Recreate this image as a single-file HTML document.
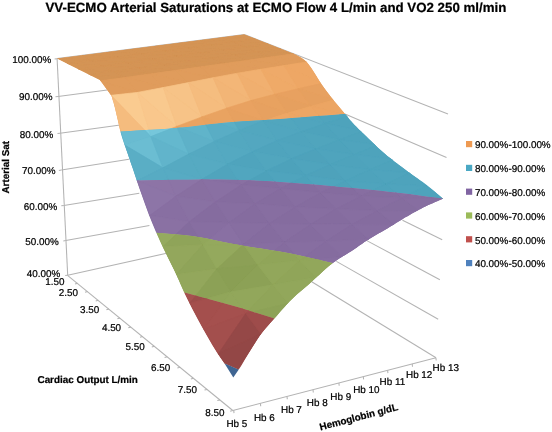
<!DOCTYPE html>
<html><head><meta charset="utf-8"><title>VV-ECMO Arterial Saturations</title>
<style>
html,body{margin:0;padding:0;background:#fff;}
body{width:552px;height:432px;overflow:hidden;}
svg{display:block;font-family:"Liberation Sans",sans-serif;text-rendering:geometricPrecision;}
svg text{fill:#000;stroke:#000;stroke-width:0.22px;}
</style></head><body>
<svg width="552" height="432" viewBox="0 0 552 432">
<rect x="0" y="0" width="552" height="432" fill="#ffffff"/>
<defs>
<clipPath id="cO"><polygon points="57.2,58.6 244.3,34.5 296.0,54.8 297.8,55.7 299.7,56.7 301.5,57.8 303.3,59.0 305.0,60.4 306.7,62.0 309.1,64.9 311.5,68.2 313.9,72.0 316.4,76.1 319.1,80.5 322.0,85.0 325.8,90.3 329.8,95.6 333.9,100.8 337.9,105.6 341.7,110.1 345.0,114.0 335.8,114.7 326.7,115.4 317.7,116.1 308.8,116.8 300.0,117.5 292.1,118.1 284.4,118.7 276.8,119.2 269.3,119.7 262.0,120.2 255.4,120.6 248.9,120.9 242.5,121.3 236.2,121.7 230.0,122.2 224.0,122.8 218.0,123.4 212.0,124.1 206.0,124.8 200.0,125.5 193.9,126.2 187.8,126.9 181.7,127.5 175.8,128.1 170.0,128.6 165.0,129.0 160.2,129.3 155.5,129.5 150.8,129.8 146.0,130.0 141.0,130.3 135.9,130.6 130.8,130.9 125.6,131.2 120.4,131.5 119.5,128.0 118.7,124.3 117.9,120.6 117.1,117.0 116.3,113.4 115.5,110.0 114.9,107.4 114.2,105.0 113.6,102.6 112.9,100.4 112.3,98.2 111.6,96.0 100.0,80.0 57.2,58.6"/></clipPath>
<clipPath id="cT"><polygon points="120.4,131.5 125.6,131.2 130.8,130.9 135.9,130.6 141.0,130.3 146.0,130.0 150.8,129.8 155.5,129.5 160.2,129.3 165.0,129.0 170.0,128.6 175.8,128.1 181.7,127.5 187.8,126.9 193.9,126.2 200.0,125.5 206.0,124.8 212.0,124.1 218.0,123.4 224.0,122.8 230.0,122.2 236.2,121.7 242.5,121.3 248.9,120.9 255.4,120.6 262.0,120.2 269.3,119.7 276.8,119.2 284.4,118.7 292.1,118.1 300.0,117.5 308.8,116.8 317.7,116.1 326.7,115.4 335.8,114.7 345.0,114.0 346.8,116.1 348.4,118.1 349.9,119.9 351.4,121.6 352.9,123.3 354.5,125.0 356.6,127.1 358.9,129.4 361.3,131.7 363.8,134.1 366.4,136.5 368.9,138.9 371.3,141.2 373.6,143.5 375.9,145.7 378.2,147.9 380.5,150.0 382.8,152.1 385.1,154.0 387.3,155.9 389.7,157.8 392.0,159.6 394.3,161.4 396.7,163.2 399.0,165.0 401.4,166.8 403.7,168.5 406.0,170.3 408.3,172.0 410.6,173.6 412.9,175.2 415.1,176.7 417.4,178.3 419.7,179.9 422.0,181.5 424.4,183.3 427.3,185.6 430.4,188.0 433.5,190.6 436.6,193.2 439.8,195.9 443.0,198.7 434.6,197.5 426.1,196.4 417.5,195.2 408.9,194.1 400.0,193.0 390.2,191.9 380.3,190.8 370.2,189.8 360.1,188.8 350.0,187.8 340.0,186.9 330.0,186.0 320.0,185.1 310.0,184.3 300.0,183.5 290.0,182.7 279.9,182.0 269.9,181.3 259.9,180.7 250.0,180.2 240.2,179.9 230.4,179.7 220.5,179.6 210.4,179.6 200.0,179.6 187.9,179.7 175.5,179.8 162.7,180.0 149.8,180.2 136.8,180.4 134.8,174.6 133.0,169.1 131.2,163.9 129.5,159.0 127.9,154.3 126.4,150.0 125.3,146.8 124.2,143.7 123.2,140.7 122.2,137.7 121.3,134.7 120.4,131.5"/></clipPath>
<clipPath id="cP"><polygon points="136.8,180.4 149.8,180.2 162.7,180.0 175.5,179.8 187.9,179.7 200.0,179.6 210.4,179.6 220.5,179.6 230.4,179.7 240.2,179.9 250.0,180.2 259.9,180.7 269.9,181.3 279.9,182.0 290.0,182.7 300.0,183.5 310.0,184.3 320.0,185.1 330.0,186.0 340.0,186.9 350.0,187.8 360.1,188.8 370.2,189.8 380.3,190.8 390.2,191.9 400.0,193.0 408.9,194.1 417.5,195.2 426.1,196.4 434.6,197.5 443.0,198.7 440.3,199.8 437.7,200.9 435.1,202.1 432.6,203.2 430.1,204.2 427.8,205.3 425.9,206.2 424.1,207.1 422.3,208.0 420.6,208.9 418.8,209.8 417.0,210.8 414.8,212.0 412.4,213.3 410.0,214.7 407.5,216.2 404.9,217.6 402.3,219.2 399.4,221.0 396.4,222.8 393.4,224.7 390.4,226.5 387.3,228.4 384.3,230.2 381.3,231.9 378.4,233.6 375.5,235.3 372.6,237.0 369.8,238.7 367.0,240.4 364.4,242.1 361.9,243.9 359.4,245.6 356.9,247.4 354.3,249.2 351.7,250.9 348.7,252.8 345.6,254.7 342.4,256.6 339.2,258.6 336.0,260.7 332.8,263.0 328.3,261.9 323.8,260.9 319.2,259.8 314.6,258.8 310.0,257.7 304.6,256.5 299.0,255.3 293.2,254.1 286.9,252.8 280.0,251.6 270.3,250.0 260.0,248.3 249.5,246.7 239.4,245.0 230.0,243.3 223.5,242.0 217.5,240.7 211.8,239.4 206.0,238.3 200.0,237.2 192.2,236.1 183.7,235.1 174.8,234.3 165.6,233.5 156.3,232.8 152.5,223.7 148.9,214.7 145.6,205.7 142.5,196.9 139.5,188.5 136.8,180.4"/></clipPath>
<clipPath id="cG"><polygon points="156.3,232.8 165.6,233.5 174.8,234.3 183.7,235.1 192.2,236.1 200.0,237.2 206.0,238.3 211.8,239.4 217.5,240.7 223.5,242.0 230.0,243.3 239.4,245.0 249.5,246.7 260.0,248.3 270.3,250.0 280.0,251.6 286.9,252.8 293.2,254.1 299.0,255.3 304.6,256.5 310.0,257.7 314.6,258.8 319.2,259.8 323.8,260.9 328.3,261.9 332.8,263.0 329.3,265.8 325.7,268.8 322.2,272.0 318.8,275.2 315.2,278.5 311.7,281.7 308.1,284.9 304.5,288.0 300.9,291.1 297.3,294.1 293.9,297.3 290.5,300.5 287.5,303.6 284.7,306.7 281.9,309.8 279.3,312.8 276.8,315.8 274.3,318.6 265.5,315.8 256.7,313.1 247.8,310.3 238.9,307.6 230.0,305.0 220.9,302.4 211.8,299.9 202.6,297.4 193.4,294.9 184.2,292.5 182.6,289.0 181.3,286.0 180.1,283.3 179.0,280.6 177.8,277.9 176.5,275.0 173.9,269.6 170.9,263.4 167.4,256.4 163.7,248.9 160.0,241.0 156.3,232.8"/></clipPath>
<clipPath id="cR"><polygon points="184.2,292.5 193.4,294.9 202.6,297.4 211.8,299.9 220.9,302.4 230.0,305.0 238.9,307.6 247.8,310.3 256.7,313.1 265.5,315.8 274.3,318.6 272.0,321.1 269.8,323.5 267.6,326.0 265.2,328.7 262.8,331.7 260.3,335.1 256.6,340.6 252.7,346.7 248.8,353.1 245.0,359.3 241.7,365.0 238.8,369.6 224.4,363.3 222.7,360.8 220.9,358.2 219.0,355.5 217.0,352.4 214.8,349.0 212.3,345.0 207.7,337.1 202.6,328.0 197.4,318.4 192.4,308.9 187.9,300.0 184.2,292.5"/></clipPath>
</defs>
<g id="grid" fill="none">
<line x1="57.1" y1="58.8" x2="67.7" y2="275.3" stroke="#b3b3b3" stroke-width="1.05"/>
<line x1="58.0" y1="96.5" x2="107.2" y2="89.9" stroke="#b3b3b3" stroke-width="1.05"/>
<line x1="60.0" y1="133.3" x2="120.3" y2="124.9" stroke="#b3b3b3" stroke-width="1.05"/>
<line x1="61.4" y1="170.1" x2="129.0" y2="159.3" stroke="#b3b3b3" stroke-width="1.05"/>
<line x1="63.8" y1="205.5" x2="139.3" y2="193.2" stroke="#b3b3b3" stroke-width="1.05"/>
<line x1="65.8" y1="240.6" x2="149.4" y2="225.4" stroke="#b3b3b3" stroke-width="1.05"/>
<line x1="67.7" y1="275.2" x2="170.0" y2="252.5" stroke="#b3b3b3" stroke-width="1.05"/>
<line x1="57.2" y1="58.6" x2="244.3" y2="34.5" stroke="#b3b3b3" stroke-width="1.05"/>
<line x1="244.3" y1="34.5" x2="448.0" y2="114.0" stroke="#b3b3b3" stroke-width="1.05"/>
<line x1="345.0" y1="114.0" x2="446.5" y2="157.4" stroke="#b3b3b3" stroke-width="1.05"/>
<line x1="402.5" y1="220.3" x2="442.2" y2="239.7" stroke="#b3b3b3" stroke-width="1.05"/>
<line x1="366.8" y1="240.6" x2="439.9" y2="279.7" stroke="#b3b3b3" stroke-width="1.05"/>
<line x1="336.4" y1="261.4" x2="438.2" y2="319.2" stroke="#b3b3b3" stroke-width="1.05"/>
<line x1="311.7" y1="281.7" x2="436.0" y2="357.7" stroke="#b3b3b3" stroke-width="1.05"/>
<line x1="67.5" y1="275.3" x2="232.8" y2="410.5" stroke="#b3b3b3" stroke-width="1.05"/>
<line x1="232.8" y1="410.5" x2="436.0" y2="357.7" stroke="#b3b3b3" stroke-width="1.05"/>
<line x1="77.6" y1="283.2" x2="75.0" y2="283.9" stroke="#b3b3b3" stroke-width="1.05"/>
<line x1="87.6" y1="291.5" x2="85.0" y2="292.2" stroke="#b3b3b3" stroke-width="1.05"/>
<line x1="98.3" y1="300.2" x2="95.7" y2="300.9" stroke="#b3b3b3" stroke-width="1.05"/>
<line x1="109.0" y1="309.0" x2="106.4" y2="309.7" stroke="#b3b3b3" stroke-width="1.05"/>
<line x1="120.0" y1="318.0" x2="117.4" y2="318.7" stroke="#b3b3b3" stroke-width="1.05"/>
<line x1="130.9" y1="327.0" x2="128.3" y2="327.7" stroke="#b3b3b3" stroke-width="1.05"/>
<line x1="142.6" y1="336.6" x2="140.0" y2="337.3" stroke="#b3b3b3" stroke-width="1.05"/>
<line x1="154.4" y1="346.2" x2="151.8" y2="346.9" stroke="#b3b3b3" stroke-width="1.05"/>
<line x1="167.2" y1="356.7" x2="164.6" y2="357.4" stroke="#b3b3b3" stroke-width="1.05"/>
<line x1="180.0" y1="367.2" x2="177.4" y2="367.9" stroke="#b3b3b3" stroke-width="1.05"/>
<line x1="193.5" y1="378.3" x2="190.9" y2="379.0" stroke="#b3b3b3" stroke-width="1.05"/>
<line x1="207.1" y1="389.4" x2="204.5" y2="390.1" stroke="#b3b3b3" stroke-width="1.05"/>
<line x1="219.9" y1="399.9" x2="217.3" y2="400.6" stroke="#b3b3b3" stroke-width="1.05"/>
<line x1="232.8" y1="410.5" x2="230.2" y2="411.2" stroke="#b3b3b3" stroke-width="1.05"/>
<line x1="233.7" y1="410.3" x2="234.0" y2="413.1" stroke="#b3b3b3" stroke-width="1.05"/>
<line x1="260.4" y1="403.4" x2="260.7" y2="406.2" stroke="#b3b3b3" stroke-width="1.05"/>
<line x1="287.0" y1="396.5" x2="287.3" y2="399.3" stroke="#b3b3b3" stroke-width="1.05"/>
<line x1="313.0" y1="389.7" x2="313.3" y2="392.5" stroke="#b3b3b3" stroke-width="1.05"/>
<line x1="338.9" y1="383.0" x2="339.2" y2="385.8" stroke="#b3b3b3" stroke-width="1.05"/>
<line x1="363.3" y1="376.6" x2="363.6" y2="379.4" stroke="#b3b3b3" stroke-width="1.05"/>
<line x1="387.6" y1="370.3" x2="387.9" y2="373.1" stroke="#b3b3b3" stroke-width="1.05"/>
<line x1="412.2" y1="363.9" x2="412.5" y2="366.7" stroke="#b3b3b3" stroke-width="1.05"/>
<line x1="435.9" y1="357.7" x2="436.2" y2="360.5" stroke="#b3b3b3" stroke-width="1.05"/>
<line x1="58.0" y1="96.5" x2="55.5" y2="96.8" stroke="#b3b3b3" stroke-width="1.05"/>
<line x1="60.0" y1="133.3" x2="57.5" y2="133.6" stroke="#b3b3b3" stroke-width="1.05"/>
<line x1="61.4" y1="170.1" x2="58.9" y2="170.4" stroke="#b3b3b3" stroke-width="1.05"/>
<line x1="63.8" y1="205.5" x2="61.3" y2="205.8" stroke="#b3b3b3" stroke-width="1.05"/>
<line x1="65.8" y1="240.6" x2="63.3" y2="240.9" stroke="#b3b3b3" stroke-width="1.05"/>
<line x1="67.7" y1="275.2" x2="65.2" y2="275.5" stroke="#b3b3b3" stroke-width="1.05"/>
<line x1="57.1" y1="58.8" x2="54.6" y2="59.1" stroke="#b3b3b3" stroke-width="1.05"/>
</g>
<g id="surface" stroke="none">
<polygon points="57.2,58.6 244.3,34.5 296.0,54.8 297.8,55.7 299.7,56.7 301.5,57.8 303.3,59.0 305.0,60.4 306.7,62.0 309.1,64.9 311.5,68.2 313.9,72.0 316.4,76.1 319.1,80.5 322.0,85.0 325.8,90.3 329.8,95.6 333.9,100.8 337.9,105.6 341.7,110.1 345.0,114.0 335.8,114.7 326.7,115.4 317.7,116.1 308.8,116.8 300.0,117.5 292.1,118.1 284.4,118.7 276.8,119.2 269.3,119.7 262.0,120.2 255.4,120.6 248.9,120.9 242.5,121.3 236.2,121.7 230.0,122.2 224.0,122.8 218.0,123.4 212.0,124.1 206.0,124.8 200.0,125.5 193.9,126.2 187.8,126.9 181.7,127.5 175.8,128.1 170.0,128.6 165.0,129.0 160.2,129.3 155.5,129.5 150.8,129.8 146.0,130.0 141.0,130.3 135.9,130.6 130.8,130.9 125.6,131.2 120.4,131.5 119.5,128.0 118.7,124.3 117.9,120.6 117.1,117.0 116.3,113.4 115.5,110.0 114.9,107.4 114.2,105.0 113.6,102.6 112.9,100.4 112.3,98.2 111.6,96.0 100.0,80.0 57.2,58.6" fill="#EDA563" />
<polygon points="120.4,131.5 125.6,131.2 130.8,130.9 135.9,130.6 141.0,130.3 146.0,130.0 150.8,129.8 155.5,129.5 160.2,129.3 165.0,129.0 170.0,128.6 175.8,128.1 181.7,127.5 187.8,126.9 193.9,126.2 200.0,125.5 206.0,124.8 212.0,124.1 218.0,123.4 224.0,122.8 230.0,122.2 236.2,121.7 242.5,121.3 248.9,120.9 255.4,120.6 262.0,120.2 269.3,119.7 276.8,119.2 284.4,118.7 292.1,118.1 300.0,117.5 308.8,116.8 317.7,116.1 326.7,115.4 335.8,114.7 345.0,114.0 346.8,116.1 348.4,118.1 349.9,119.9 351.4,121.6 352.9,123.3 354.5,125.0 356.6,127.1 358.9,129.4 361.3,131.7 363.8,134.1 366.4,136.5 368.9,138.9 371.3,141.2 373.6,143.5 375.9,145.7 378.2,147.9 380.5,150.0 382.8,152.1 385.1,154.0 387.3,155.9 389.7,157.8 392.0,159.6 394.3,161.4 396.7,163.2 399.0,165.0 401.4,166.8 403.7,168.5 406.0,170.3 408.3,172.0 410.6,173.6 412.9,175.2 415.1,176.7 417.4,178.3 419.7,179.9 422.0,181.5 424.4,183.3 427.3,185.6 430.4,188.0 433.5,190.6 436.6,193.2 439.8,195.9 443.0,198.7 434.6,197.5 426.1,196.4 417.5,195.2 408.9,194.1 400.0,193.0 390.2,191.9 380.3,190.8 370.2,189.8 360.1,188.8 350.0,187.8 340.0,186.9 330.0,186.0 320.0,185.1 310.0,184.3 300.0,183.5 290.0,182.7 279.9,182.0 269.9,181.3 259.9,180.7 250.0,180.2 240.2,179.9 230.4,179.7 220.5,179.6 210.4,179.6 200.0,179.6 187.9,179.7 175.5,179.8 162.7,180.0 149.8,180.2 136.8,180.4 134.8,174.6 133.0,169.1 131.2,163.9 129.5,159.0 127.9,154.3 126.4,150.0 125.3,146.8 124.2,143.7 123.2,140.7 122.2,137.7 121.3,134.7 120.4,131.5" fill="#4FA4BD" />
<polygon points="136.8,180.4 149.8,180.2 162.7,180.0 175.5,179.8 187.9,179.7 200.0,179.6 210.4,179.6 220.5,179.6 230.4,179.7 240.2,179.9 250.0,180.2 259.9,180.7 269.9,181.3 279.9,182.0 290.0,182.7 300.0,183.5 310.0,184.3 320.0,185.1 330.0,186.0 340.0,186.9 350.0,187.8 360.1,188.8 370.2,189.8 380.3,190.8 390.2,191.9 400.0,193.0 408.9,194.1 417.5,195.2 426.1,196.4 434.6,197.5 443.0,198.7 440.3,199.8 437.7,200.9 435.1,202.1 432.6,203.2 430.1,204.2 427.8,205.3 425.9,206.2 424.1,207.1 422.3,208.0 420.6,208.9 418.8,209.8 417.0,210.8 414.8,212.0 412.4,213.3 410.0,214.7 407.5,216.2 404.9,217.6 402.3,219.2 399.4,221.0 396.4,222.8 393.4,224.7 390.4,226.5 387.3,228.4 384.3,230.2 381.3,231.9 378.4,233.6 375.5,235.3 372.6,237.0 369.8,238.7 367.0,240.4 364.4,242.1 361.9,243.9 359.4,245.6 356.9,247.4 354.3,249.2 351.7,250.9 348.7,252.8 345.6,254.7 342.4,256.6 339.2,258.6 336.0,260.7 332.8,263.0 328.3,261.9 323.8,260.9 319.2,259.8 314.6,258.8 310.0,257.7 304.6,256.5 299.0,255.3 293.2,254.1 286.9,252.8 280.0,251.6 270.3,250.0 260.0,248.3 249.5,246.7 239.4,245.0 230.0,243.3 223.5,242.0 217.5,240.7 211.8,239.4 206.0,238.3 200.0,237.2 192.2,236.1 183.7,235.1 174.8,234.3 165.6,233.5 156.3,232.8 152.5,223.7 148.9,214.7 145.6,205.7 142.5,196.9 139.5,188.5 136.8,180.4" fill="#866DA0" />
<polygon points="156.3,232.8 165.6,233.5 174.8,234.3 183.7,235.1 192.2,236.1 200.0,237.2 206.0,238.3 211.8,239.4 217.5,240.7 223.5,242.0 230.0,243.3 239.4,245.0 249.5,246.7 260.0,248.3 270.3,250.0 280.0,251.6 286.9,252.8 293.2,254.1 299.0,255.3 304.6,256.5 310.0,257.7 314.6,258.8 319.2,259.8 323.8,260.9 328.3,261.9 332.8,263.0 329.3,265.8 325.7,268.8 322.2,272.0 318.8,275.2 315.2,278.5 311.7,281.7 308.1,284.9 304.5,288.0 300.9,291.1 297.3,294.1 293.9,297.3 290.5,300.5 287.5,303.6 284.7,306.7 281.9,309.8 279.3,312.8 276.8,315.8 274.3,318.6 265.5,315.8 256.7,313.1 247.8,310.3 238.9,307.6 230.0,305.0 220.9,302.4 211.8,299.9 202.6,297.4 193.4,294.9 184.2,292.5 182.6,289.0 181.3,286.0 180.1,283.3 179.0,280.6 177.8,277.9 176.5,275.0 173.9,269.6 170.9,263.4 167.4,256.4 163.7,248.9 160.0,241.0 156.3,232.8" fill="#91A65A" />
<polygon points="184.2,292.5 193.4,294.9 202.6,297.4 211.8,299.9 220.9,302.4 230.0,305.0 238.9,307.6 247.8,310.3 256.7,313.1 265.5,315.8 274.3,318.6 272.0,321.1 269.8,323.5 267.6,326.0 265.2,328.7 262.8,331.7 260.3,335.1 256.6,340.6 252.7,346.7 248.8,353.1 245.0,359.3 241.7,365.0 238.8,369.6 224.4,363.3 222.7,360.8 220.9,358.2 219.0,355.5 217.0,352.4 214.8,349.0 212.3,345.0 207.7,337.1 202.6,328.0 197.4,318.4 192.4,308.9 187.9,300.0 184.2,292.5" fill="#A5504E" />
<polygon points="224.4,363.3 238.8,369.6 233.3,377.4" fill="#3F6592" />
<g clip-path="url(#cO)">
<polygon points="57.2,58.6 82.3,55.4 92.6,60.6" fill="#D49455" stroke="#D49455" stroke-width="0.7" stroke-linejoin="round"/>
<polygon points="57.2,58.6 92.6,60.6 67.3,63.9" fill="#D49455" stroke="#D49455" stroke-width="0.7" stroke-linejoin="round"/>
<polygon points="82.3,55.4 106.8,52.2 117.4,57.4" fill="#D49455" stroke="#D49455" stroke-width="0.7" stroke-linejoin="round"/>
<polygon points="82.3,55.4 117.4,57.4 92.6,60.6" fill="#D49455" stroke="#D49455" stroke-width="0.7" stroke-linejoin="round"/>
<polygon points="106.8,52.2 130.9,49.1 141.7,54.2" fill="#D49455" stroke="#D49455" stroke-width="0.7" stroke-linejoin="round"/>
<polygon points="106.8,52.2 141.7,54.2 117.4,57.4" fill="#D49455" stroke="#D49455" stroke-width="0.7" stroke-linejoin="round"/>
<polygon points="130.9,49.1 154.4,46.1 165.5,51.0" fill="#D49455" stroke="#D49455" stroke-width="0.7" stroke-linejoin="round"/>
<polygon points="130.9,49.1 165.5,51.0 141.7,54.2" fill="#D49455" stroke="#D49455" stroke-width="0.7" stroke-linejoin="round"/>
<polygon points="154.4,46.1 177.6,43.1 188.8,48.0" fill="#D49455" stroke="#D49455" stroke-width="0.7" stroke-linejoin="round"/>
<polygon points="154.4,46.1 188.8,48.0 165.5,51.0" fill="#D49455" stroke="#D49455" stroke-width="0.7" stroke-linejoin="round"/>
<polygon points="177.6,43.1 200.2,40.2 211.7,44.9" fill="#D49455" stroke="#D49455" stroke-width="0.7" stroke-linejoin="round"/>
<polygon points="177.6,43.1 211.7,44.9 188.8,48.0" fill="#D49455" stroke="#D49455" stroke-width="0.7" stroke-linejoin="round"/>
<polygon points="200.2,40.2 222.5,37.3 234.1,42.0" fill="#D49455" stroke="#D49455" stroke-width="0.7" stroke-linejoin="round"/>
<polygon points="200.2,40.2 234.1,42.0 211.7,44.9" fill="#D49455" stroke="#D49455" stroke-width="0.7" stroke-linejoin="round"/>
<polygon points="222.5,37.3 244.3,34.5 256.1,39.1" fill="#D49455" stroke="#D49455" stroke-width="0.7" stroke-linejoin="round"/>
<polygon points="222.5,37.3 256.1,39.1 234.1,42.0" fill="#D49455" stroke="#D49455" stroke-width="0.7" stroke-linejoin="round"/>
<polygon points="67.3,63.9 92.6,60.6 103.2,66.0" fill="#D49455" stroke="#D49455" stroke-width="0.7" stroke-linejoin="round"/>
<polygon points="67.3,63.9 103.2,66.0 77.6,69.5" fill="#D49455" stroke="#D49455" stroke-width="0.7" stroke-linejoin="round"/>
<polygon points="92.6,60.6 117.4,57.4 128.3,62.7" fill="#D49455" stroke="#D49455" stroke-width="0.7" stroke-linejoin="round"/>
<polygon points="92.6,60.6 128.3,62.7 103.2,66.0" fill="#D49455" stroke="#D49455" stroke-width="0.7" stroke-linejoin="round"/>
<polygon points="117.4,57.4 141.7,54.2 152.8,59.4" fill="#D49455" stroke="#D49455" stroke-width="0.7" stroke-linejoin="round"/>
<polygon points="117.4,57.4 152.8,59.4 128.3,62.7" fill="#D49455" stroke="#D49455" stroke-width="0.7" stroke-linejoin="round"/>
<polygon points="141.7,54.2 165.5,51.0 176.8,56.1" fill="#D49455" stroke="#D49455" stroke-width="0.7" stroke-linejoin="round"/>
<polygon points="141.7,54.2 176.8,56.1 152.8,59.4" fill="#D49455" stroke="#D49455" stroke-width="0.7" stroke-linejoin="round"/>
<polygon points="165.5,51.0 188.8,48.0 200.4,53.0" fill="#D49455" stroke="#D49455" stroke-width="0.7" stroke-linejoin="round"/>
<polygon points="165.5,51.0 200.4,53.0 176.8,56.1" fill="#D49455" stroke="#D49455" stroke-width="0.7" stroke-linejoin="round"/>
<polygon points="188.8,48.0 211.7,44.9 223.4,49.9" fill="#D49455" stroke="#D49455" stroke-width="0.7" stroke-linejoin="round"/>
<polygon points="188.8,48.0 223.4,49.9 200.4,53.0" fill="#D49455" stroke="#D49455" stroke-width="0.7" stroke-linejoin="round"/>
<polygon points="211.7,44.9 234.1,42.0 246.1,46.8" fill="#D49455" stroke="#D49455" stroke-width="0.7" stroke-linejoin="round"/>
<polygon points="211.7,44.9 246.1,46.8 223.4,49.9" fill="#D49455" stroke="#D49455" stroke-width="0.7" stroke-linejoin="round"/>
<polygon points="234.1,42.0 256.1,39.1 268.2,43.8" fill="#D49455" stroke="#D49455" stroke-width="0.7" stroke-linejoin="round"/>
<polygon points="234.1,42.0 268.2,43.8 246.1,46.8" fill="#D49455" stroke="#D49455" stroke-width="0.7" stroke-linejoin="round"/>
<polygon points="77.6,69.5 103.2,66.0 114.2,71.6" fill="#D49455" stroke="#D49455" stroke-width="0.7" stroke-linejoin="round"/>
<polygon points="77.6,69.5 114.2,71.6 88.3,75.1" fill="#D49455" stroke="#D49455" stroke-width="0.7" stroke-linejoin="round"/>
<polygon points="103.2,66.0 128.3,62.7 139.5,68.1" fill="#D49455" stroke="#D49455" stroke-width="0.7" stroke-linejoin="round"/>
<polygon points="103.2,66.0 139.5,68.1 114.2,71.6" fill="#D49455" stroke="#D49455" stroke-width="0.7" stroke-linejoin="round"/>
<polygon points="128.3,62.7 152.8,59.4 164.3,64.7" fill="#D49455" stroke="#D49455" stroke-width="0.7" stroke-linejoin="round"/>
<polygon points="128.3,62.7 164.3,64.7 139.5,68.1" fill="#D49455" stroke="#D49455" stroke-width="0.7" stroke-linejoin="round"/>
<polygon points="152.8,59.4 176.8,56.1 188.5,61.4" fill="#D49455" stroke="#D49455" stroke-width="0.7" stroke-linejoin="round"/>
<polygon points="152.8,59.4 188.5,61.4 164.3,64.7" fill="#D49455" stroke="#D49455" stroke-width="0.7" stroke-linejoin="round"/>
<polygon points="176.8,56.1 200.4,53.0 212.3,58.1" fill="#D49455" stroke="#D49455" stroke-width="0.7" stroke-linejoin="round"/>
<polygon points="176.8,56.1 212.3,58.1 188.5,61.4" fill="#D49455" stroke="#D49455" stroke-width="0.7" stroke-linejoin="round"/>
<polygon points="200.4,53.0 223.4,49.9 235.6,54.9" fill="#D49455" stroke="#D49455" stroke-width="0.7" stroke-linejoin="round"/>
<polygon points="200.4,53.0 235.6,54.9 212.3,58.1" fill="#D49455" stroke="#D49455" stroke-width="0.7" stroke-linejoin="round"/>
<polygon points="223.4,49.9 246.1,46.8 258.4,51.8" fill="#D49455" stroke="#D49455" stroke-width="0.7" stroke-linejoin="round"/>
<polygon points="223.4,49.9 258.4,51.8 235.6,54.9" fill="#D49455" stroke="#D49455" stroke-width="0.7" stroke-linejoin="round"/>
<polygon points="246.1,46.8 268.2,43.8 280.8,48.7" fill="#D49455" stroke="#D49455" stroke-width="0.7" stroke-linejoin="round"/>
<polygon points="246.1,46.8 280.8,48.7 258.4,51.8" fill="#D49455" stroke="#D49455" stroke-width="0.7" stroke-linejoin="round"/>
<polygon points="88.3,75.1 114.2,71.6 125.5,77.4" fill="#D49455" stroke="#D49455" stroke-width="0.7" stroke-linejoin="round"/>
<polygon points="88.3,75.1 125.5,77.4 99.4,81.0" fill="#D49455" stroke="#D49455" stroke-width="0.7" stroke-linejoin="round"/>
<polygon points="114.2,71.6 139.5,68.1 151.1,73.8" fill="#D49455" stroke="#D49455" stroke-width="0.7" stroke-linejoin="round"/>
<polygon points="114.2,71.6 151.1,73.8 125.5,77.4" fill="#D49455" stroke="#D49455" stroke-width="0.7" stroke-linejoin="round"/>
<polygon points="139.5,68.1 164.3,64.7 176.1,70.3" fill="#D49455" stroke="#D49455" stroke-width="0.7" stroke-linejoin="round"/>
<polygon points="139.5,68.1 176.1,70.3 151.1,73.8" fill="#D49455" stroke="#D49455" stroke-width="0.7" stroke-linejoin="round"/>
<polygon points="164.3,64.7 188.5,61.4 200.6,66.8" fill="#D49455" stroke="#D49455" stroke-width="0.7" stroke-linejoin="round"/>
<polygon points="164.3,64.7 200.6,66.8 176.1,70.3" fill="#D49455" stroke="#D49455" stroke-width="0.7" stroke-linejoin="round"/>
<polygon points="188.5,61.4 212.3,58.1 224.6,63.5" fill="#D49455" stroke="#D49455" stroke-width="0.7" stroke-linejoin="round"/>
<polygon points="188.5,61.4 224.6,63.5 200.6,66.8" fill="#D49455" stroke="#D49455" stroke-width="0.7" stroke-linejoin="round"/>
<polygon points="212.3,58.1 235.6,54.9 248.1,60.2" fill="#D49455" stroke="#D49455" stroke-width="0.7" stroke-linejoin="round"/>
<polygon points="212.3,58.1 248.1,60.2 224.6,63.5" fill="#D49455" stroke="#D49455" stroke-width="0.7" stroke-linejoin="round"/>
<polygon points="235.6,54.9 258.4,51.8 271.1,56.9" fill="#D49455" stroke="#D49455" stroke-width="0.7" stroke-linejoin="round"/>
<polygon points="235.6,54.9 271.1,56.9 248.1,60.2" fill="#D49455" stroke="#D49455" stroke-width="0.7" stroke-linejoin="round"/>
<polygon points="258.4,51.8 280.8,48.7 293.7,53.8" fill="#D49455" stroke="#D49455" stroke-width="0.7" stroke-linejoin="round"/>
<polygon points="258.4,51.8 293.7,53.8 271.1,56.9" fill="#D49455" stroke="#D49455" stroke-width="0.7" stroke-linejoin="round"/>
<polygon points="99.4,81.0 125.5,77.4 137.4,92.4" fill="#E09C5C" stroke="#E09C5C" stroke-width="0.7" stroke-linejoin="round"/>
<polygon points="99.4,81.0 137.4,92.4 111.1,95.3" fill="#E09C5C" stroke="#E09C5C" stroke-width="0.7" stroke-linejoin="round"/>
<polygon points="125.5,77.4 151.1,73.8 163.2,87.5" fill="#E09C5C" stroke="#E09C5C" stroke-width="0.7" stroke-linejoin="round"/>
<polygon points="125.5,77.4 163.2,87.5 137.4,92.4" fill="#E09C5C" stroke="#E09C5C" stroke-width="0.7" stroke-linejoin="round"/>
<polygon points="151.1,73.8 176.1,70.3 188.4,82.6" fill="#E09C5C" stroke="#E09C5C" stroke-width="0.7" stroke-linejoin="round"/>
<polygon points="151.1,73.8 188.4,82.6 163.2,87.5" fill="#E09C5C" stroke="#E09C5C" stroke-width="0.7" stroke-linejoin="round"/>
<polygon points="176.1,70.3 200.6,66.8 213.1,77.7" fill="#E09C5C" stroke="#E09C5C" stroke-width="0.7" stroke-linejoin="round"/>
<polygon points="176.1,70.3 213.1,77.7 188.4,82.6" fill="#E09C5C" stroke="#E09C5C" stroke-width="0.7" stroke-linejoin="round"/>
<polygon points="200.6,66.8 224.6,63.5 237.3,73.2" fill="#E09C5C" stroke="#E09C5C" stroke-width="0.7" stroke-linejoin="round"/>
<polygon points="200.6,66.8 237.3,73.2 213.1,77.7" fill="#E09C5C" stroke="#E09C5C" stroke-width="0.7" stroke-linejoin="round"/>
<polygon points="224.6,63.5 248.1,60.2 261.0,69.2" fill="#E09C5C" stroke="#E09C5C" stroke-width="0.7" stroke-linejoin="round"/>
<polygon points="224.6,63.5 261.0,69.2 237.3,73.2" fill="#E09C5C" stroke="#E09C5C" stroke-width="0.7" stroke-linejoin="round"/>
<polygon points="248.1,60.2 271.1,56.9 284.2,65.5" fill="#E09C5C" stroke="#E09C5C" stroke-width="0.7" stroke-linejoin="round"/>
<polygon points="248.1,60.2 284.2,65.5 261.0,69.2" fill="#E09C5C" stroke="#E09C5C" stroke-width="0.7" stroke-linejoin="round"/>
<polygon points="271.1,56.9 293.7,53.8 306.9,62.0" fill="#E09C5C" stroke="#E09C5C" stroke-width="0.7" stroke-linejoin="round"/>
<polygon points="271.1,56.9 306.9,62.0 284.2,65.5" fill="#E09C5C" stroke="#E09C5C" stroke-width="0.7" stroke-linejoin="round"/>
<polygon points="111.1,95.3 137.4,92.4 150.9,136.6" fill="#FACB90" stroke="#FACB90" stroke-width="0.7" stroke-linejoin="round"/>
<polygon points="111.1,95.3 150.9,136.6 124.8,145.1" fill="#F5BC7E" stroke="#F5BC7E" stroke-width="0.7" stroke-linejoin="round"/>
<polygon points="137.4,92.4 163.2,87.5 176.7,126.4" fill="#F9C98E" stroke="#F9C98E" stroke-width="0.7" stroke-linejoin="round"/>
<polygon points="137.4,92.4 176.7,126.4 150.9,136.6" fill="#F9C78C" stroke="#F9C78C" stroke-width="0.7" stroke-linejoin="round"/>
<polygon points="163.2,87.5 188.4,82.6 201.9,116.9" fill="#F7C387" stroke="#F7C387" stroke-width="0.7" stroke-linejoin="round"/>
<polygon points="163.2,87.5 201.9,116.9 176.7,126.4" fill="#F7C387" stroke="#F7C387" stroke-width="0.7" stroke-linejoin="round"/>
<polygon points="188.4,82.6 213.1,77.7 226.7,108.2" fill="#F5BD7F" stroke="#F5BD7F" stroke-width="0.7" stroke-linejoin="round"/>
<polygon points="188.4,82.6 226.7,108.2 201.9,116.9" fill="#F5BC7E" stroke="#F5BC7E" stroke-width="0.7" stroke-linejoin="round"/>
<polygon points="213.1,77.7 237.3,73.2 251.0,100.5" fill="#F3B677" stroke="#F3B677" stroke-width="0.7" stroke-linejoin="round"/>
<polygon points="213.1,77.7 251.0,100.5 226.7,108.2" fill="#F2B576" stroke="#F2B576" stroke-width="0.7" stroke-linejoin="round"/>
<polygon points="237.3,73.2 261.0,69.2 274.8,94.3" fill="#F1B070" stroke="#F1B070" stroke-width="0.7" stroke-linejoin="round"/>
<polygon points="237.3,73.2 274.8,94.3 251.0,100.5" fill="#F0AF6F" stroke="#F0AF6F" stroke-width="0.7" stroke-linejoin="round"/>
<polygon points="261.0,69.2 284.2,65.5 298.2,88.8" fill="#EFAA69" stroke="#EFAA69" stroke-width="0.7" stroke-linejoin="round"/>
<polygon points="261.0,69.2 298.2,88.8 274.8,94.3" fill="#EFAA68" stroke="#EFAA68" stroke-width="0.7" stroke-linejoin="round"/>
<polygon points="284.2,65.5 306.9,62.0 321.1,83.6" fill="#EEA765" stroke="#EEA765" stroke-width="0.7" stroke-linejoin="round"/>
<polygon points="284.2,65.5 321.1,83.6 298.2,88.8" fill="#EEA765" stroke="#EEA765" stroke-width="0.7" stroke-linejoin="round"/>
<polygon points="124.8,145.1 150.9,136.6 163.0,167.8" fill="#EBA462" stroke="#EBA462" stroke-width="0.7" stroke-linejoin="round"/>
<polygon points="124.8,145.1 163.0,167.8 136.9,180.8" fill="#EAA361" stroke="#EAA361" stroke-width="0.7" stroke-linejoin="round"/>
<polygon points="150.9,136.6 176.7,126.4 188.8,154.0" fill="#EBA362" stroke="#EBA362" stroke-width="0.7" stroke-linejoin="round"/>
<polygon points="150.9,136.6 188.8,154.0 163.0,167.8" fill="#E9A261" stroke="#E9A261" stroke-width="0.7" stroke-linejoin="round"/>
<polygon points="176.7,126.4 201.9,116.9 214.2,141.5" fill="#EAA361" stroke="#EAA361" stroke-width="0.7" stroke-linejoin="round"/>
<polygon points="176.7,126.4 214.2,141.5 188.8,154.0" fill="#E9A261" stroke="#E9A261" stroke-width="0.7" stroke-linejoin="round"/>
<polygon points="201.9,116.9 226.7,108.2 239.1,130.4" fill="#E9A361" stroke="#E9A361" stroke-width="0.7" stroke-linejoin="round"/>
<polygon points="201.9,116.9 239.1,130.4 214.2,141.5" fill="#E8A260" stroke="#E8A260" stroke-width="0.7" stroke-linejoin="round"/>
<polygon points="226.7,108.2 251.0,100.5 263.6,120.8" fill="#E9A261" stroke="#E9A261" stroke-width="0.7" stroke-linejoin="round"/>
<polygon points="226.7,108.2 263.6,120.8 239.1,130.4" fill="#E7A160" stroke="#E7A160" stroke-width="0.7" stroke-linejoin="round"/>
<polygon points="251.0,100.5 274.8,94.3 287.5,113.1" fill="#E8A260" stroke="#E8A260" stroke-width="0.7" stroke-linejoin="round"/>
<polygon points="251.0,100.5 287.5,113.1 263.6,120.8" fill="#E7A160" stroke="#E7A160" stroke-width="0.7" stroke-linejoin="round"/>
<polygon points="274.8,94.3 298.2,88.8 311.1,106.2" fill="#E8A160" stroke="#E8A160" stroke-width="0.7" stroke-linejoin="round"/>
<polygon points="274.8,94.3 311.1,106.2 287.5,113.1" fill="#E6A05F" stroke="#E6A05F" stroke-width="0.7" stroke-linejoin="round"/>
<polygon points="298.2,88.8 321.1,83.6 334.1,99.8" fill="#E7A160" stroke="#E7A160" stroke-width="0.7" stroke-linejoin="round"/>
<polygon points="298.2,88.8 334.1,99.8 311.1,106.2" fill="#E6A05F" stroke="#E6A05F" stroke-width="0.7" stroke-linejoin="round"/>
<polygon points="188.8,154.0 214.2,141.5 227.5,164.3" fill="#EFAA69" stroke="#EFAA69" stroke-width="0.7" stroke-linejoin="round"/>
<polygon points="214.2,141.5 239.1,130.4 252.6,151.6" fill="#EEA968" stroke="#EEA968" stroke-width="0.7" stroke-linejoin="round"/>
<polygon points="214.2,141.5 252.6,151.6 227.5,164.3" fill="#EFAA68" stroke="#EFAA68" stroke-width="0.7" stroke-linejoin="round"/>
<polygon points="239.1,130.4 263.6,120.8 277.2,140.6" fill="#EEA866" stroke="#EEA866" stroke-width="0.7" stroke-linejoin="round"/>
<polygon points="239.1,130.4 277.2,140.6 252.6,151.6" fill="#EEA867" stroke="#EEA867" stroke-width="0.7" stroke-linejoin="round"/>
<polygon points="263.6,120.8 287.5,113.1 301.4,131.7" fill="#EEA765" stroke="#EEA765" stroke-width="0.7" stroke-linejoin="round"/>
<polygon points="263.6,120.8 301.4,131.7 277.2,140.6" fill="#EEA766" stroke="#EEA766" stroke-width="0.7" stroke-linejoin="round"/>
<polygon points="287.5,113.1 311.1,106.2 325.1,123.6" fill="#EDA664" stroke="#EDA664" stroke-width="0.7" stroke-linejoin="round"/>
<polygon points="287.5,113.1 325.1,123.6 301.4,131.7" fill="#EDA664" stroke="#EDA664" stroke-width="0.7" stroke-linejoin="round"/>
<polygon points="311.1,106.2 334.1,99.8 348.3,116.1" fill="#ECA563" stroke="#ECA563" stroke-width="0.7" stroke-linejoin="round"/>
<polygon points="311.1,106.2 348.3,116.1 325.1,123.6" fill="#EDA563" stroke="#EDA563" stroke-width="0.7" stroke-linejoin="round"/>
<polygon points="277.2,140.6 301.4,131.7 315.7,148.9" fill="#EDA563" stroke="#EDA563" stroke-width="0.7" stroke-linejoin="round"/>
<polygon points="301.4,131.7 325.1,123.6 339.6,139.7" fill="#ECA563" stroke="#ECA563" stroke-width="0.7" stroke-linejoin="round"/>
<polygon points="301.4,131.7 339.6,139.7 315.7,148.9" fill="#EDA664" stroke="#EDA664" stroke-width="0.7" stroke-linejoin="round"/>
<polygon points="325.1,123.6 348.3,116.1 363.0,131.1" fill="#ECA462" stroke="#ECA462" stroke-width="0.7" stroke-linejoin="round"/>
<polygon points="325.1,123.6 363.0,131.1 339.6,139.7" fill="#EDA563" stroke="#EDA563" stroke-width="0.7" stroke-linejoin="round"/>
<polygon points="339.6,139.7 363.0,131.1 378.1,145.0" fill="#EBA462" stroke="#EBA462" stroke-width="0.7" stroke-linejoin="round"/>
</g>
<g clip-path="url(#cT)">
<polygon points="111.1,95.3 137.4,92.4 150.9,136.6" fill="#7ACBDE" stroke="#7ACBDE" stroke-width="0.7" stroke-linejoin="round"/>
<polygon points="111.1,95.3 150.9,136.6 124.8,145.1" fill="#69BBD1" stroke="#69BBD1" stroke-width="0.7" stroke-linejoin="round"/>
<polygon points="137.4,92.4 163.2,87.5 176.7,126.4" fill="#78C9DC" stroke="#78C9DC" stroke-width="0.7" stroke-linejoin="round"/>
<polygon points="137.4,92.4 176.7,126.4 150.9,136.6" fill="#76C7DB" stroke="#76C7DB" stroke-width="0.7" stroke-linejoin="round"/>
<polygon points="163.2,87.5 188.4,82.6 201.9,116.9" fill="#71C3D7" stroke="#71C3D7" stroke-width="0.7" stroke-linejoin="round"/>
<polygon points="163.2,87.5 201.9,116.9 176.7,126.4" fill="#71C3D7" stroke="#71C3D7" stroke-width="0.7" stroke-linejoin="round"/>
<polygon points="188.4,82.6 213.1,77.7 226.7,108.2" fill="#6ABCD1" stroke="#6ABCD1" stroke-width="0.7" stroke-linejoin="round"/>
<polygon points="188.4,82.6 226.7,108.2 201.9,116.9" fill="#69BBD1" stroke="#69BBD1" stroke-width="0.7" stroke-linejoin="round"/>
<polygon points="213.1,77.7 251.0,100.5 226.7,108.2" fill="#61B4CB" stroke="#61B4CB" stroke-width="0.7" stroke-linejoin="round"/>
<polygon points="124.8,145.1 150.9,136.6 163.0,167.8" fill="#6BBDD2" stroke="#6BBDD2" stroke-width="0.7" stroke-linejoin="round"/>
<polygon points="124.8,145.1 163.0,167.8 136.9,180.8" fill="#5AAEC5" stroke="#5AAEC5" stroke-width="0.7" stroke-linejoin="round"/>
<polygon points="150.9,136.6 176.7,126.4 188.8,154.0" fill="#64B8CE" stroke="#64B8CE" stroke-width="0.7" stroke-linejoin="round"/>
<polygon points="150.9,136.6 188.8,154.0 163.0,167.8" fill="#61B4CB" stroke="#61B4CB" stroke-width="0.7" stroke-linejoin="round"/>
<polygon points="176.7,126.4 201.9,116.9 214.2,141.5" fill="#60B4CA" stroke="#60B4CA" stroke-width="0.7" stroke-linejoin="round"/>
<polygon points="176.7,126.4 214.2,141.5 188.8,154.0" fill="#5EB1C8" stroke="#5EB1C8" stroke-width="0.7" stroke-linejoin="round"/>
<polygon points="201.9,116.9 226.7,108.2 239.1,130.4" fill="#5BAFC6" stroke="#5BAFC6" stroke-width="0.7" stroke-linejoin="round"/>
<polygon points="201.9,116.9 239.1,130.4 214.2,141.5" fill="#59ADC5" stroke="#59ADC5" stroke-width="0.7" stroke-linejoin="round"/>
<polygon points="226.7,108.2 251.0,100.5 263.6,120.8" fill="#56ABC3" stroke="#56ABC3" stroke-width="0.7" stroke-linejoin="round"/>
<polygon points="226.7,108.2 263.6,120.8 239.1,130.4" fill="#55A9C2" stroke="#55A9C2" stroke-width="0.7" stroke-linejoin="round"/>
<polygon points="251.0,100.5 274.8,94.3 287.5,113.1" fill="#52A7C0" stroke="#52A7C0" stroke-width="0.7" stroke-linejoin="round"/>
<polygon points="251.0,100.5 287.5,113.1 263.6,120.8" fill="#52A6BF" stroke="#52A6BF" stroke-width="0.7" stroke-linejoin="round"/>
<polygon points="274.8,94.3 298.2,88.8 311.1,106.2" fill="#50A5BE" stroke="#50A5BE" stroke-width="0.7" stroke-linejoin="round"/>
<polygon points="274.8,94.3 311.1,106.2 287.5,113.1" fill="#4FA4BD" stroke="#4FA4BD" stroke-width="0.7" stroke-linejoin="round"/>
<polygon points="298.2,88.8 321.1,83.6 334.1,99.8" fill="#4DA2BB" stroke="#4DA2BB" stroke-width="0.7" stroke-linejoin="round"/>
<polygon points="298.2,88.8 334.1,99.8 311.1,106.2" fill="#4DA2BB" stroke="#4DA2BB" stroke-width="0.7" stroke-linejoin="round"/>
<polygon points="136.9,180.8 163.0,167.8 176.1,196.2" fill="#57ABC3" stroke="#57ABC3" stroke-width="0.7" stroke-linejoin="round"/>
<polygon points="136.9,180.8 176.1,196.2 149.9,215.5" fill="#58ACC4" stroke="#58ACC4" stroke-width="0.7" stroke-linejoin="round"/>
<polygon points="163.0,167.8 188.8,154.0 202.0,179.3" fill="#56AAC2" stroke="#56AAC2" stroke-width="0.7" stroke-linejoin="round"/>
<polygon points="163.0,167.8 202.0,179.3 176.1,196.2" fill="#57ABC3" stroke="#57ABC3" stroke-width="0.7" stroke-linejoin="round"/>
<polygon points="188.8,154.0 214.2,141.5 227.5,164.3" fill="#55A9C1" stroke="#55A9C1" stroke-width="0.7" stroke-linejoin="round"/>
<polygon points="188.8,154.0 227.5,164.3 202.0,179.3" fill="#56AAC2" stroke="#56AAC2" stroke-width="0.7" stroke-linejoin="round"/>
<polygon points="214.2,141.5 239.1,130.4 252.6,151.6" fill="#53A8C0" stroke="#53A8C0" stroke-width="0.7" stroke-linejoin="round"/>
<polygon points="214.2,141.5 252.6,151.6 227.5,164.3" fill="#54A9C1" stroke="#54A9C1" stroke-width="0.7" stroke-linejoin="round"/>
<polygon points="239.1,130.4 263.6,120.8 277.2,140.6" fill="#52A7BF" stroke="#52A7BF" stroke-width="0.7" stroke-linejoin="round"/>
<polygon points="239.1,130.4 277.2,140.6 252.6,151.6" fill="#53A7C0" stroke="#53A7C0" stroke-width="0.7" stroke-linejoin="round"/>
<polygon points="263.6,120.8 287.5,113.1 301.4,131.7" fill="#51A6BE" stroke="#51A6BE" stroke-width="0.7" stroke-linejoin="round"/>
<polygon points="263.6,120.8 301.4,131.7 277.2,140.6" fill="#51A6BF" stroke="#51A6BF" stroke-width="0.7" stroke-linejoin="round"/>
<polygon points="287.5,113.1 311.1,106.2 325.1,123.6" fill="#50A5BD" stroke="#50A5BD" stroke-width="0.7" stroke-linejoin="round"/>
<polygon points="287.5,113.1 325.1,123.6 301.4,131.7" fill="#50A5BE" stroke="#50A5BE" stroke-width="0.7" stroke-linejoin="round"/>
<polygon points="311.1,106.2 334.1,99.8 348.3,116.1" fill="#4EA3BC" stroke="#4EA3BC" stroke-width="0.7" stroke-linejoin="round"/>
<polygon points="311.1,106.2 348.3,116.1 325.1,123.6" fill="#4FA4BD" stroke="#4FA4BD" stroke-width="0.7" stroke-linejoin="round"/>
<polygon points="149.9,215.5 176.1,196.2 189.3,221.7" fill="#50A5BE" stroke="#50A5BE" stroke-width="0.7" stroke-linejoin="round"/>
<polygon points="176.1,196.2 202.0,179.3 215.4,202.0" fill="#50A5BE" stroke="#50A5BE" stroke-width="0.7" stroke-linejoin="round"/>
<polygon points="176.1,196.2 215.4,202.0 189.3,221.7" fill="#53A7C0" stroke="#53A7C0" stroke-width="0.7" stroke-linejoin="round"/>
<polygon points="202.0,179.3 227.5,164.3 241.2,184.9" fill="#50A4BD" stroke="#50A4BD" stroke-width="0.7" stroke-linejoin="round"/>
<polygon points="202.0,179.3 241.2,184.9 215.4,202.0" fill="#52A7BF" stroke="#52A7BF" stroke-width="0.7" stroke-linejoin="round"/>
<polygon points="227.5,164.3 252.6,151.6 266.5,170.9" fill="#4FA4BD" stroke="#4FA4BD" stroke-width="0.7" stroke-linejoin="round"/>
<polygon points="227.5,164.3 266.5,170.9 241.2,184.9" fill="#51A6BF" stroke="#51A6BF" stroke-width="0.7" stroke-linejoin="round"/>
<polygon points="252.6,151.6 277.2,140.6 291.3,158.8" fill="#4FA4BD" stroke="#4FA4BD" stroke-width="0.7" stroke-linejoin="round"/>
<polygon points="252.6,151.6 291.3,158.8 266.5,170.9" fill="#51A6BE" stroke="#51A6BE" stroke-width="0.7" stroke-linejoin="round"/>
<polygon points="277.2,140.6 301.4,131.7 315.7,148.9" fill="#4FA4BD" stroke="#4FA4BD" stroke-width="0.7" stroke-linejoin="round"/>
<polygon points="277.2,140.6 315.7,148.9 291.3,158.8" fill="#50A5BE" stroke="#50A5BE" stroke-width="0.7" stroke-linejoin="round"/>
<polygon points="301.4,131.7 325.1,123.6 339.6,139.7" fill="#4EA3BC" stroke="#4EA3BC" stroke-width="0.7" stroke-linejoin="round"/>
<polygon points="301.4,131.7 339.6,139.7 315.7,148.9" fill="#50A5BD" stroke="#50A5BD" stroke-width="0.7" stroke-linejoin="round"/>
<polygon points="325.1,123.6 348.3,116.1 363.0,131.1" fill="#4EA3BC" stroke="#4EA3BC" stroke-width="0.7" stroke-linejoin="round"/>
<polygon points="325.1,123.6 363.0,131.1 339.6,139.7" fill="#4FA4BD" stroke="#4FA4BD" stroke-width="0.7" stroke-linejoin="round"/>
<polygon points="215.4,202.0 241.2,184.9 255.2,203.8" fill="#4DA2BB" stroke="#4DA2BB" stroke-width="0.7" stroke-linejoin="round"/>
<polygon points="241.2,184.9 266.5,170.9 280.7,188.6" fill="#4DA2BB" stroke="#4DA2BB" stroke-width="0.7" stroke-linejoin="round"/>
<polygon points="241.2,184.9 280.7,188.6 255.2,203.8" fill="#4FA4BD" stroke="#4FA4BD" stroke-width="0.7" stroke-linejoin="round"/>
<polygon points="266.5,170.9 291.3,158.8 305.8,175.5" fill="#4DA2BB" stroke="#4DA2BB" stroke-width="0.7" stroke-linejoin="round"/>
<polygon points="266.5,170.9 305.8,175.5 280.7,188.6" fill="#4FA4BD" stroke="#4FA4BD" stroke-width="0.7" stroke-linejoin="round"/>
<polygon points="291.3,158.8 315.7,148.9 330.4,164.6" fill="#4EA2BB" stroke="#4EA2BB" stroke-width="0.7" stroke-linejoin="round"/>
<polygon points="291.3,158.8 330.4,164.6 305.8,175.5" fill="#4FA4BD" stroke="#4FA4BD" stroke-width="0.7" stroke-linejoin="round"/>
<polygon points="315.7,148.9 339.6,139.7 354.5,154.5" fill="#4EA3BC" stroke="#4EA3BC" stroke-width="0.7" stroke-linejoin="round"/>
<polygon points="315.7,148.9 354.5,154.5 330.4,164.6" fill="#4FA4BD" stroke="#4FA4BD" stroke-width="0.7" stroke-linejoin="round"/>
<polygon points="339.6,139.7 363.0,131.1 378.1,145.0" fill="#4EA3BC" stroke="#4EA3BC" stroke-width="0.7" stroke-linejoin="round"/>
<polygon points="339.6,139.7 378.1,145.0 354.5,154.5" fill="#4FA4BD" stroke="#4FA4BD" stroke-width="0.7" stroke-linejoin="round"/>
<polygon points="255.2,203.8 280.7,188.6 295.4,207.1" fill="#4DA2BB" stroke="#4DA2BB" stroke-width="0.7" stroke-linejoin="round"/>
<polygon points="280.7,188.6 305.8,175.5 320.7,192.7" fill="#4DA2BB" stroke="#4DA2BB" stroke-width="0.7" stroke-linejoin="round"/>
<polygon points="280.7,188.6 320.7,192.7 295.4,207.1" fill="#4FA4BD" stroke="#4FA4BD" stroke-width="0.7" stroke-linejoin="round"/>
<polygon points="305.8,175.5 330.4,164.6 345.5,180.9" fill="#4EA2BB" stroke="#4EA2BB" stroke-width="0.7" stroke-linejoin="round"/>
<polygon points="305.8,175.5 345.5,180.9 320.7,192.7" fill="#4FA4BD" stroke="#4FA4BD" stroke-width="0.7" stroke-linejoin="round"/>
<polygon points="330.4,164.6 354.5,154.5 369.9,169.7" fill="#4EA3BC" stroke="#4EA3BC" stroke-width="0.7" stroke-linejoin="round"/>
<polygon points="330.4,164.6 369.9,169.7 345.5,180.9" fill="#4FA4BD" stroke="#4FA4BD" stroke-width="0.7" stroke-linejoin="round"/>
<polygon points="354.5,154.5 378.1,145.0 393.7,159.4" fill="#4EA3BC" stroke="#4EA3BC" stroke-width="0.7" stroke-linejoin="round"/>
<polygon points="354.5,154.5 393.7,159.4 369.9,169.7" fill="#4FA4BD" stroke="#4FA4BD" stroke-width="0.7" stroke-linejoin="round"/>
<polygon points="295.4,207.1 320.7,192.7 336.1,208.9" fill="#4DA2BB" stroke="#4DA2BB" stroke-width="0.7" stroke-linejoin="round"/>
<polygon points="295.4,207.1 336.1,208.9 310.6,224.4" fill="#4FA4BD" stroke="#4FA4BD" stroke-width="0.7" stroke-linejoin="round"/>
<polygon points="320.7,192.7 345.5,180.9 361.2,196.1" fill="#4EA2BB" stroke="#4EA2BB" stroke-width="0.7" stroke-linejoin="round"/>
<polygon points="320.7,192.7 361.2,196.1 336.1,208.9" fill="#4FA4BD" stroke="#4FA4BD" stroke-width="0.7" stroke-linejoin="round"/>
<polygon points="345.5,180.9 369.9,169.7 385.8,184.0" fill="#4EA3BC" stroke="#4EA3BC" stroke-width="0.7" stroke-linejoin="round"/>
<polygon points="345.5,180.9 385.8,184.0 361.2,196.1" fill="#4FA4BD" stroke="#4FA4BD" stroke-width="0.7" stroke-linejoin="round"/>
<polygon points="369.9,169.7 393.7,159.4 409.9,172.9" fill="#4EA3BC" stroke="#4EA3BC" stroke-width="0.7" stroke-linejoin="round"/>
<polygon points="369.9,169.7 409.9,172.9 385.8,184.0" fill="#4FA4BD" stroke="#4FA4BD" stroke-width="0.7" stroke-linejoin="round"/>
<polygon points="310.6,224.4 336.1,208.9 352.1,224.5" fill="#4DA2BB" stroke="#4DA2BB" stroke-width="0.7" stroke-linejoin="round"/>
<polygon points="336.1,208.9 361.2,196.1 377.4,210.8" fill="#4EA2BB" stroke="#4EA2BB" stroke-width="0.7" stroke-linejoin="round"/>
<polygon points="336.1,208.9 377.4,210.8 352.1,224.5" fill="#4FA4BD" stroke="#4FA4BD" stroke-width="0.7" stroke-linejoin="round"/>
<polygon points="361.2,196.1 385.8,184.0 402.2,197.9" fill="#4EA3BC" stroke="#4EA3BC" stroke-width="0.7" stroke-linejoin="round"/>
<polygon points="361.2,196.1 402.2,197.9 377.4,210.8" fill="#4FA4BD" stroke="#4FA4BD" stroke-width="0.7" stroke-linejoin="round"/>
<polygon points="385.8,184.0 409.9,172.9 426.5,186.0" fill="#4EA3BC" stroke="#4EA3BC" stroke-width="0.7" stroke-linejoin="round"/>
<polygon points="385.8,184.0 426.5,186.0 402.2,197.9" fill="#4FA4BD" stroke="#4FA4BD" stroke-width="0.7" stroke-linejoin="round"/>
<polygon points="352.1,224.5 377.4,210.8 394.2,224.8" fill="#4EA2BB" stroke="#4EA2BB" stroke-width="0.7" stroke-linejoin="round"/>
<polygon points="377.4,210.8 402.2,197.9 419.3,211.1" fill="#4EA3BC" stroke="#4EA3BC" stroke-width="0.7" stroke-linejoin="round"/>
<polygon points="377.4,210.8 419.3,211.1 394.2,224.8" fill="#4FA4BD" stroke="#4FA4BD" stroke-width="0.7" stroke-linejoin="round"/>
<polygon points="402.2,197.9 426.5,186.0 443.8,198.5" fill="#4EA3BC" stroke="#4EA3BC" stroke-width="0.7" stroke-linejoin="round"/>
<polygon points="402.2,197.9 443.8,198.5 419.3,211.1" fill="#4FA4BD" stroke="#4FA4BD" stroke-width="0.7" stroke-linejoin="round"/>
</g>
<g clip-path="url(#cP)">
<polygon points="124.8,145.1 163.0,167.8 136.9,180.8" fill="#8E76A8" stroke="#8E76A8" stroke-width="0.7" stroke-linejoin="round"/>
<polygon points="136.9,180.8 163.0,167.8 176.1,196.2" fill="#8D74A6" stroke="#8D74A6" stroke-width="0.7" stroke-linejoin="round"/>
<polygon points="136.9,180.8 176.1,196.2 149.9,215.5" fill="#8D75A7" stroke="#8D75A7" stroke-width="0.7" stroke-linejoin="round"/>
<polygon points="163.0,167.8 188.8,154.0 202.0,179.3" fill="#8C73A5" stroke="#8C73A5" stroke-width="0.7" stroke-linejoin="round"/>
<polygon points="163.0,167.8 202.0,179.3 176.1,196.2" fill="#8C74A6" stroke="#8C74A6" stroke-width="0.7" stroke-linejoin="round"/>
<polygon points="188.8,154.0 227.5,164.3 202.0,179.3" fill="#8C73A5" stroke="#8C73A5" stroke-width="0.7" stroke-linejoin="round"/>
<polygon points="149.9,215.5 176.1,196.2 189.3,221.7" fill="#886FA2" stroke="#886FA2" stroke-width="0.7" stroke-linejoin="round"/>
<polygon points="149.9,215.5 189.3,221.7 163.0,246.7" fill="#8A71A3" stroke="#8A71A3" stroke-width="0.7" stroke-linejoin="round"/>
<polygon points="176.1,196.2 202.0,179.3 215.4,202.0" fill="#886FA1" stroke="#886FA1" stroke-width="0.7" stroke-linejoin="round"/>
<polygon points="176.1,196.2 215.4,202.0 189.3,221.7" fill="#8971A3" stroke="#8971A3" stroke-width="0.7" stroke-linejoin="round"/>
<polygon points="202.0,179.3 227.5,164.3 241.2,184.9" fill="#876EA1" stroke="#876EA1" stroke-width="0.7" stroke-linejoin="round"/>
<polygon points="202.0,179.3 241.2,184.9 215.4,202.0" fill="#8970A3" stroke="#8970A3" stroke-width="0.7" stroke-linejoin="round"/>
<polygon points="227.5,164.3 252.6,151.6 266.5,170.9" fill="#876EA1" stroke="#876EA1" stroke-width="0.7" stroke-linejoin="round"/>
<polygon points="227.5,164.3 266.5,170.9 241.2,184.9" fill="#8970A2" stroke="#8970A2" stroke-width="0.7" stroke-linejoin="round"/>
<polygon points="252.6,151.6 291.3,158.8 266.5,170.9" fill="#886FA2" stroke="#886FA2" stroke-width="0.7" stroke-linejoin="round"/>
<polygon points="163.0,246.7 189.3,221.7 202.9,244.7" fill="#846C9E" stroke="#846C9E" stroke-width="0.7" stroke-linejoin="round"/>
<polygon points="163.0,246.7 202.9,244.7 176.3,274.5" fill="#876EA1" stroke="#876EA1" stroke-width="0.7" stroke-linejoin="round"/>
<polygon points="189.3,221.7 215.4,202.0 229.2,222.7" fill="#856C9F" stroke="#856C9F" stroke-width="0.7" stroke-linejoin="round"/>
<polygon points="189.3,221.7 229.2,222.7 202.9,244.7" fill="#876EA1" stroke="#876EA1" stroke-width="0.7" stroke-linejoin="round"/>
<polygon points="215.4,202.0 241.2,184.9 255.2,203.8" fill="#856C9F" stroke="#856C9F" stroke-width="0.7" stroke-linejoin="round"/>
<polygon points="215.4,202.0 255.2,203.8 229.2,222.7" fill="#876EA1" stroke="#876EA1" stroke-width="0.7" stroke-linejoin="round"/>
<polygon points="241.2,184.9 266.5,170.9 280.7,188.6" fill="#856C9F" stroke="#856C9F" stroke-width="0.7" stroke-linejoin="round"/>
<polygon points="241.2,184.9 280.7,188.6 255.2,203.8" fill="#876EA1" stroke="#876EA1" stroke-width="0.7" stroke-linejoin="round"/>
<polygon points="266.5,170.9 291.3,158.8 305.8,175.5" fill="#856C9F" stroke="#856C9F" stroke-width="0.7" stroke-linejoin="round"/>
<polygon points="266.5,170.9 305.8,175.5 280.7,188.6" fill="#876EA1" stroke="#876EA1" stroke-width="0.7" stroke-linejoin="round"/>
<polygon points="291.3,158.8 330.4,164.6 305.8,175.5" fill="#876EA1" stroke="#876EA1" stroke-width="0.7" stroke-linejoin="round"/>
<polygon points="176.3,274.5 202.9,244.7 216.8,268.9" fill="#846C9E" stroke="#846C9E" stroke-width="0.7" stroke-linejoin="round"/>
<polygon points="202.9,244.7 229.2,222.7 243.4,244.4" fill="#8970A3" stroke="#8970A3" stroke-width="0.7" stroke-linejoin="round"/>
<polygon points="202.9,244.7 243.4,244.4 216.8,268.9" fill="#8970A3" stroke="#8970A3" stroke-width="0.7" stroke-linejoin="round"/>
<polygon points="229.2,222.7 255.2,203.8 269.6,223.5" fill="#856C9F" stroke="#856C9F" stroke-width="0.7" stroke-linejoin="round"/>
<polygon points="229.2,222.7 269.6,223.5 243.4,244.4" fill="#876EA1" stroke="#876EA1" stroke-width="0.7" stroke-linejoin="round"/>
<polygon points="255.2,203.8 280.7,188.6 295.4,207.1" fill="#856C9F" stroke="#856C9F" stroke-width="0.7" stroke-linejoin="round"/>
<polygon points="255.2,203.8 295.4,207.1 269.6,223.5" fill="#876EA1" stroke="#876EA1" stroke-width="0.7" stroke-linejoin="round"/>
<polygon points="280.7,188.6 305.8,175.5 320.7,192.7" fill="#856C9F" stroke="#856C9F" stroke-width="0.7" stroke-linejoin="round"/>
<polygon points="280.7,188.6 320.7,192.7 295.4,207.1" fill="#876EA1" stroke="#876EA1" stroke-width="0.7" stroke-linejoin="round"/>
<polygon points="305.8,175.5 330.4,164.6 345.5,180.9" fill="#856C9F" stroke="#856C9F" stroke-width="0.7" stroke-linejoin="round"/>
<polygon points="305.8,175.5 345.5,180.9 320.7,192.7" fill="#876EA1" stroke="#876EA1" stroke-width="0.7" stroke-linejoin="round"/>
<polygon points="330.4,164.6 354.5,154.5 369.9,169.7" fill="#856D9F" stroke="#856D9F" stroke-width="0.7" stroke-linejoin="round"/>
<polygon points="330.4,164.6 369.9,169.7 345.5,180.9" fill="#876EA1" stroke="#876EA1" stroke-width="0.7" stroke-linejoin="round"/>
<polygon points="354.5,154.5 393.7,159.4 369.9,169.7" fill="#876EA1" stroke="#876EA1" stroke-width="0.7" stroke-linejoin="round"/>
<polygon points="216.8,268.9 243.4,244.4 257.9,265.1" fill="#81689B" stroke="#81689B" stroke-width="0.7" stroke-linejoin="round"/>
<polygon points="216.8,268.9 257.9,265.1 231.0,291.8" fill="#806799" stroke="#806799" stroke-width="0.7" stroke-linejoin="round"/>
<polygon points="243.4,244.4 269.6,223.5 284.5,242.3" fill="#856C9F" stroke="#856C9F" stroke-width="0.7" stroke-linejoin="round"/>
<polygon points="243.4,244.4 284.5,242.3 257.9,265.1" fill="#876EA1" stroke="#876EA1" stroke-width="0.7" stroke-linejoin="round"/>
<polygon points="269.6,223.5 295.4,207.1 310.6,224.4" fill="#856C9F" stroke="#856C9F" stroke-width="0.7" stroke-linejoin="round"/>
<polygon points="269.6,223.5 310.6,224.4 284.5,242.3" fill="#876EA1" stroke="#876EA1" stroke-width="0.7" stroke-linejoin="round"/>
<polygon points="295.4,207.1 320.7,192.7 336.1,208.9" fill="#856C9F" stroke="#856C9F" stroke-width="0.7" stroke-linejoin="round"/>
<polygon points="295.4,207.1 336.1,208.9 310.6,224.4" fill="#876EA1" stroke="#876EA1" stroke-width="0.7" stroke-linejoin="round"/>
<polygon points="320.7,192.7 345.5,180.9 361.2,196.1" fill="#856C9F" stroke="#856C9F" stroke-width="0.7" stroke-linejoin="round"/>
<polygon points="320.7,192.7 361.2,196.1 336.1,208.9" fill="#876EA1" stroke="#876EA1" stroke-width="0.7" stroke-linejoin="round"/>
<polygon points="345.5,180.9 369.9,169.7 385.8,184.0" fill="#856D9F" stroke="#856D9F" stroke-width="0.7" stroke-linejoin="round"/>
<polygon points="345.5,180.9 385.8,184.0 361.2,196.1" fill="#876EA1" stroke="#876EA1" stroke-width="0.7" stroke-linejoin="round"/>
<polygon points="369.9,169.7 393.7,159.4 409.9,172.9" fill="#866DA0" stroke="#866DA0" stroke-width="0.7" stroke-linejoin="round"/>
<polygon points="369.9,169.7 409.9,172.9 385.8,184.0" fill="#876EA1" stroke="#876EA1" stroke-width="0.7" stroke-linejoin="round"/>
<polygon points="231.0,291.8 257.9,265.1 273.0,284.8" fill="#81699B" stroke="#81699B" stroke-width="0.7" stroke-linejoin="round"/>
<polygon points="257.9,265.1 284.5,242.3 299.8,260.4" fill="#856C9F" stroke="#856C9F" stroke-width="0.7" stroke-linejoin="round"/>
<polygon points="257.9,265.1 299.8,260.4 273.0,284.8" fill="#876EA1" stroke="#876EA1" stroke-width="0.7" stroke-linejoin="round"/>
<polygon points="284.5,242.3 310.6,224.4 326.2,241.2" fill="#856C9F" stroke="#856C9F" stroke-width="0.7" stroke-linejoin="round"/>
<polygon points="284.5,242.3 326.2,241.2 299.8,260.4" fill="#876EA1" stroke="#876EA1" stroke-width="0.7" stroke-linejoin="round"/>
<polygon points="310.6,224.4 336.1,208.9 352.1,224.5" fill="#856C9F" stroke="#856C9F" stroke-width="0.7" stroke-linejoin="round"/>
<polygon points="310.6,224.4 352.1,224.5 326.2,241.2" fill="#876EA1" stroke="#876EA1" stroke-width="0.7" stroke-linejoin="round"/>
<polygon points="336.1,208.9 361.2,196.1 377.4,210.8" fill="#856C9F" stroke="#856C9F" stroke-width="0.7" stroke-linejoin="round"/>
<polygon points="336.1,208.9 377.4,210.8 352.1,224.5" fill="#876EA1" stroke="#876EA1" stroke-width="0.7" stroke-linejoin="round"/>
<polygon points="361.2,196.1 385.8,184.0 402.2,197.9" fill="#856D9F" stroke="#856D9F" stroke-width="0.7" stroke-linejoin="round"/>
<polygon points="361.2,196.1 402.2,197.9 377.4,210.8" fill="#876EA1" stroke="#876EA1" stroke-width="0.7" stroke-linejoin="round"/>
<polygon points="385.8,184.0 409.9,172.9 426.5,186.0" fill="#866DA0" stroke="#866DA0" stroke-width="0.7" stroke-linejoin="round"/>
<polygon points="385.8,184.0 426.5,186.0 402.2,197.9" fill="#876EA1" stroke="#876EA1" stroke-width="0.7" stroke-linejoin="round"/>
<polygon points="273.0,284.8 299.8,260.4 315.8,277.4" fill="#856C9F" stroke="#856C9F" stroke-width="0.7" stroke-linejoin="round"/>
<polygon points="273.0,284.8 315.8,277.4 288.5,303.4" fill="#876EA1" stroke="#876EA1" stroke-width="0.7" stroke-linejoin="round"/>
<polygon points="299.8,260.4 326.2,241.2 342.4,257.0" fill="#856C9F" stroke="#856C9F" stroke-width="0.7" stroke-linejoin="round"/>
<polygon points="299.8,260.4 342.4,257.0 315.8,277.4" fill="#876EA1" stroke="#876EA1" stroke-width="0.7" stroke-linejoin="round"/>
<polygon points="326.2,241.2 352.1,224.5 368.6,239.3" fill="#856C9F" stroke="#856C9F" stroke-width="0.7" stroke-linejoin="round"/>
<polygon points="326.2,241.2 368.6,239.3 342.4,257.0" fill="#876EA1" stroke="#876EA1" stroke-width="0.7" stroke-linejoin="round"/>
<polygon points="352.1,224.5 377.4,210.8 394.2,224.8" fill="#856C9F" stroke="#856C9F" stroke-width="0.7" stroke-linejoin="round"/>
<polygon points="352.1,224.5 394.2,224.8 368.6,239.3" fill="#876EA1" stroke="#876EA1" stroke-width="0.7" stroke-linejoin="round"/>
<polygon points="377.4,210.8 402.2,197.9 419.3,211.1" fill="#856D9F" stroke="#856D9F" stroke-width="0.7" stroke-linejoin="round"/>
<polygon points="377.4,210.8 419.3,211.1 394.2,224.8" fill="#876EA1" stroke="#876EA1" stroke-width="0.7" stroke-linejoin="round"/>
<polygon points="402.2,197.9 426.5,186.0 443.8,198.5" fill="#866DA0" stroke="#866DA0" stroke-width="0.7" stroke-linejoin="round"/>
<polygon points="402.2,197.9 443.8,198.5 419.3,211.1" fill="#876EA1" stroke="#876EA1" stroke-width="0.7" stroke-linejoin="round"/>
</g>
<g clip-path="url(#cG)">
<polygon points="149.9,215.5 189.3,221.7 163.0,246.7" fill="#95AA5F" stroke="#95AA5F" stroke-width="0.7" stroke-linejoin="round"/>
<polygon points="163.0,246.7 189.3,221.7 202.9,244.7" fill="#8FA459" stroke="#8FA459" stroke-width="0.7" stroke-linejoin="round"/>
<polygon points="163.0,246.7 202.9,244.7 176.3,274.5" fill="#93A75C" stroke="#93A75C" stroke-width="0.7" stroke-linejoin="round"/>
<polygon points="189.3,221.7 229.2,222.7 202.9,244.7" fill="#92A75B" stroke="#92A75B" stroke-width="0.7" stroke-linejoin="round"/>
<polygon points="176.3,274.5 202.9,244.7 216.8,268.9" fill="#8FA459" stroke="#8FA459" stroke-width="0.7" stroke-linejoin="round"/>
<polygon points="176.3,274.5 216.8,268.9 189.9,303.2" fill="#93A75C" stroke="#93A75C" stroke-width="0.7" stroke-linejoin="round"/>
<polygon points="202.9,244.7 229.2,222.7 243.4,244.4" fill="#94A95D" stroke="#94A95D" stroke-width="0.7" stroke-linejoin="round"/>
<polygon points="202.9,244.7 243.4,244.4 216.8,268.9" fill="#94A95D" stroke="#94A95D" stroke-width="0.7" stroke-linejoin="round"/>
<polygon points="229.2,222.7 269.6,223.5 243.4,244.4" fill="#92A75B" stroke="#92A75B" stroke-width="0.7" stroke-linejoin="round"/>
<polygon points="189.9,303.2 216.8,268.9 231.0,291.8" fill="#8CA156" stroke="#8CA156" stroke-width="0.7" stroke-linejoin="round"/>
<polygon points="189.9,303.2 231.0,291.8 203.9,329.2" fill="#91A65A" stroke="#91A65A" stroke-width="0.7" stroke-linejoin="round"/>
<polygon points="216.8,268.9 243.4,244.4 257.9,265.1" fill="#8CA056" stroke="#8CA056" stroke-width="0.7" stroke-linejoin="round"/>
<polygon points="216.8,268.9 257.9,265.1 231.0,291.8" fill="#8A9F54" stroke="#8A9F54" stroke-width="0.7" stroke-linejoin="round"/>
<polygon points="243.4,244.4 269.6,223.5 284.5,242.3" fill="#90A559" stroke="#90A559" stroke-width="0.7" stroke-linejoin="round"/>
<polygon points="243.4,244.4 284.5,242.3 257.9,265.1" fill="#92A75B" stroke="#92A75B" stroke-width="0.7" stroke-linejoin="round"/>
<polygon points="269.6,223.5 310.6,224.4 284.5,242.3" fill="#92A75B" stroke="#92A75B" stroke-width="0.7" stroke-linejoin="round"/>
<polygon points="203.9,329.2 231.0,291.8 245.7,313.6" fill="#92A75B" stroke="#92A75B" stroke-width="0.7" stroke-linejoin="round"/>
<polygon points="203.9,329.2 245.7,313.6 218.2,353.9" fill="#91A65A" stroke="#91A65A" stroke-width="0.7" stroke-linejoin="round"/>
<polygon points="231.0,291.8 257.9,265.1 273.0,284.8" fill="#8CA156" stroke="#8CA156" stroke-width="0.7" stroke-linejoin="round"/>
<polygon points="231.0,291.8 273.0,284.8 245.7,313.6" fill="#92A75B" stroke="#92A75B" stroke-width="0.7" stroke-linejoin="round"/>
<polygon points="257.9,265.1 284.5,242.3 299.8,260.4" fill="#90A559" stroke="#90A559" stroke-width="0.7" stroke-linejoin="round"/>
<polygon points="257.9,265.1 299.8,260.4 273.0,284.8" fill="#92A75B" stroke="#92A75B" stroke-width="0.7" stroke-linejoin="round"/>
<polygon points="284.5,242.3 310.6,224.4 326.2,241.2" fill="#90A559" stroke="#90A559" stroke-width="0.7" stroke-linejoin="round"/>
<polygon points="284.5,242.3 326.2,241.2 299.8,260.4" fill="#92A75B" stroke="#92A75B" stroke-width="0.7" stroke-linejoin="round"/>
<polygon points="310.6,224.4 352.1,224.5 326.2,241.2" fill="#92A75B" stroke="#92A75B" stroke-width="0.7" stroke-linejoin="round"/>
<polygon points="218.2,353.9 245.7,313.6 260.9,333.9" fill="#879C52" stroke="#879C52" stroke-width="0.7" stroke-linejoin="round"/>
<polygon points="218.2,353.9 260.9,333.9 233.0,376.9" fill="#869B51" stroke="#869B51" stroke-width="0.7" stroke-linejoin="round"/>
<polygon points="245.7,313.6 273.0,284.8 288.5,303.4" fill="#90A559" stroke="#90A559" stroke-width="0.7" stroke-linejoin="round"/>
<polygon points="245.7,313.6 288.5,303.4 260.9,333.9" fill="#8DA257" stroke="#8DA257" stroke-width="0.7" stroke-linejoin="round"/>
<polygon points="273.0,284.8 299.8,260.4 315.8,277.4" fill="#90A559" stroke="#90A559" stroke-width="0.7" stroke-linejoin="round"/>
<polygon points="273.0,284.8 315.8,277.4 288.5,303.4" fill="#92A75B" stroke="#92A75B" stroke-width="0.7" stroke-linejoin="round"/>
<polygon points="299.8,260.4 326.2,241.2 342.4,257.0" fill="#90A559" stroke="#90A559" stroke-width="0.7" stroke-linejoin="round"/>
<polygon points="299.8,260.4 342.4,257.0 315.8,277.4" fill="#92A75B" stroke="#92A75B" stroke-width="0.7" stroke-linejoin="round"/>
<polygon points="326.2,241.2 352.1,224.5 368.6,239.3" fill="#90A559" stroke="#90A559" stroke-width="0.7" stroke-linejoin="round"/>
<polygon points="326.2,241.2 368.6,239.3 342.4,257.0" fill="#92A75B" stroke="#92A75B" stroke-width="0.7" stroke-linejoin="round"/>
</g>
<g clip-path="url(#cR)">
<polygon points="176.3,274.5 216.8,268.9 189.9,303.2" fill="#A5514F" stroke="#A5514F" stroke-width="0.7" stroke-linejoin="round"/>
<polygon points="189.9,303.2 216.8,268.9 231.0,291.8" fill="#9C4C4A" stroke="#9C4C4A" stroke-width="0.7" stroke-linejoin="round"/>
<polygon points="189.9,303.2 231.0,291.8 203.9,329.2" fill="#A44F4D" stroke="#A44F4D" stroke-width="0.7" stroke-linejoin="round"/>
<polygon points="216.8,268.9 257.9,265.1 231.0,291.8" fill="#994A49" stroke="#994A49" stroke-width="0.7" stroke-linejoin="round"/>
<polygon points="203.9,329.2 231.0,291.8 245.7,313.6" fill="#A5504E" stroke="#A5504E" stroke-width="0.7" stroke-linejoin="round"/>
<polygon points="203.9,329.2 245.7,313.6 218.2,353.9" fill="#A34F4D" stroke="#A34F4D" stroke-width="0.7" stroke-linejoin="round"/>
<polygon points="231.0,291.8 257.9,265.1 273.0,284.8" fill="#9C4C4A" stroke="#9C4C4A" stroke-width="0.7" stroke-linejoin="round"/>
<polygon points="231.0,291.8 273.0,284.8 245.7,313.6" fill="#A5504E" stroke="#A5504E" stroke-width="0.7" stroke-linejoin="round"/>
<polygon points="218.2,353.9 245.7,313.6 260.9,333.9" fill="#954847" stroke="#954847" stroke-width="0.7" stroke-linejoin="round"/>
<polygon points="218.2,353.9 260.9,333.9 233.0,376.9" fill="#934746" stroke="#934746" stroke-width="0.7" stroke-linejoin="round"/>
<polygon points="245.7,313.6 273.0,284.8 288.5,303.4" fill="#A24F4D" stroke="#A24F4D" stroke-width="0.7" stroke-linejoin="round"/>
<polygon points="245.7,313.6 288.5,303.4 260.9,333.9" fill="#9E4C4B" stroke="#9E4C4B" stroke-width="0.7" stroke-linejoin="round"/>
<polygon points="273.0,284.8 315.8,277.4 288.5,303.4" fill="#A5504E" stroke="#A5504E" stroke-width="0.7" stroke-linejoin="round"/>
</g>
</g>
<g id="legend">
<rect x="466" y="141.0" width="6.2" height="6.2" fill="#EE9A52"/>
<rect x="466" y="164.8" width="6.2" height="6.2" fill="#4AA8C4"/>
<rect x="466" y="188.6" width="6.2" height="6.2" fill="#8064A2"/>
<rect x="466" y="212.4" width="6.2" height="6.2" fill="#9BBB59"/>
<rect x="466" y="236.2" width="6.2" height="6.2" fill="#C0504D"/>
<rect x="466" y="260.0" width="6.2" height="6.2" fill="#4F81BD"/>
</g>
<g id="labels">
<text x="51.3" y="63.0" text-anchor="end" font-size="9.9">100.00%</text>
<text x="52.6" y="100.4" text-anchor="end" font-size="9.9">90.00%</text>
<text x="53.3" y="137.8" text-anchor="end" font-size="9.9">80.00%</text>
<text x="55.6" y="174.0" text-anchor="end" font-size="9.9">70.00%</text>
<text x="57.3" y="209.9" text-anchor="end" font-size="9.9">60.00%</text>
<text x="58.8" y="244.8" text-anchor="end" font-size="9.9">50.00%</text>
<text x="60.3" y="277.2" text-anchor="end" font-size="9.9">40.00%</text>
<text x="45.2" y="285.1" text-anchor="start" font-size="9.9">1.50</text>
<text x="58.8" y="295.5" text-anchor="start" font-size="9.9">2.50</text>
<text x="80.0" y="312.9" text-anchor="start" font-size="9.9">3.50</text>
<text x="101.9" y="331.1" text-anchor="start" font-size="9.9">4.50</text>
<text x="125.5" y="350.0" text-anchor="start" font-size="9.9">5.50</text>
<text x="151.0" y="371.1" text-anchor="start" font-size="9.9">6.50</text>
<text x="177.7" y="393.2" text-anchor="start" font-size="9.9">7.50</text>
<text x="205.2" y="416.4" text-anchor="start" font-size="9.9">8.50</text>
<text x="226.4" y="427.4" text-anchor="start" font-size="9.9">Hb 5</text>
<text x="253.9" y="420.7" text-anchor="start" font-size="9.9">Hb 6</text>
<text x="281.0" y="412.9" text-anchor="start" font-size="9.9">Hb 7</text>
<text x="306.8" y="406.3" text-anchor="start" font-size="9.9">Hb 8</text>
<text x="330.3" y="399.6" text-anchor="start" font-size="9.9">Hb 9</text>
<text x="353.2" y="393.2" text-anchor="start" font-size="9.9">Hb 10</text>
<text x="379.6" y="385.4" text-anchor="start" font-size="9.9">Hb 11</text>
<text x="406.0" y="378.4" text-anchor="start" font-size="9.9">Hb 12</text>
<text x="432.6" y="370.9" text-anchor="start" font-size="9.9">Hb 13</text>
<text x="275.9" y="12.0" text-anchor="middle" font-size="13.29" font-weight="bold">VV-ECMO Arterial Saturations at ECMO Flow 4 L/min and VO2 250 ml/min</text>
<text x="37.5" y="383.3" text-anchor="start" font-size="9.9" font-weight="bold">Cardiac Output L/min</text>
<text x="8.8" y="167.2" text-anchor="middle" font-size="9.9" font-weight="bold" transform="rotate(-90 8.8 167.2)">Arterial Sat</text>
<text x="359.5" y="420.2" text-anchor="middle" font-size="9.9" font-weight="bold" transform="rotate(-14.7 359.5 420.2)">Hemoglobin g/dL</text>
<text x="474.9" y="148.3" text-anchor="start" font-size="9.9">90.00%-100.00%</text>
<text x="474.9" y="172.1" text-anchor="start" font-size="9.9">80.00%-90.00%</text>
<text x="474.9" y="195.9" text-anchor="start" font-size="9.9">70.00%-80.00%</text>
<text x="474.9" y="219.7" text-anchor="start" font-size="9.9">60.00%-70.00%</text>
<text x="474.9" y="243.5" text-anchor="start" font-size="9.9">50.00%-60.00%</text>
<text x="474.9" y="267.3" text-anchor="start" font-size="9.9">40.00%-50.00%</text>
</g>
</svg>
</body></html>
